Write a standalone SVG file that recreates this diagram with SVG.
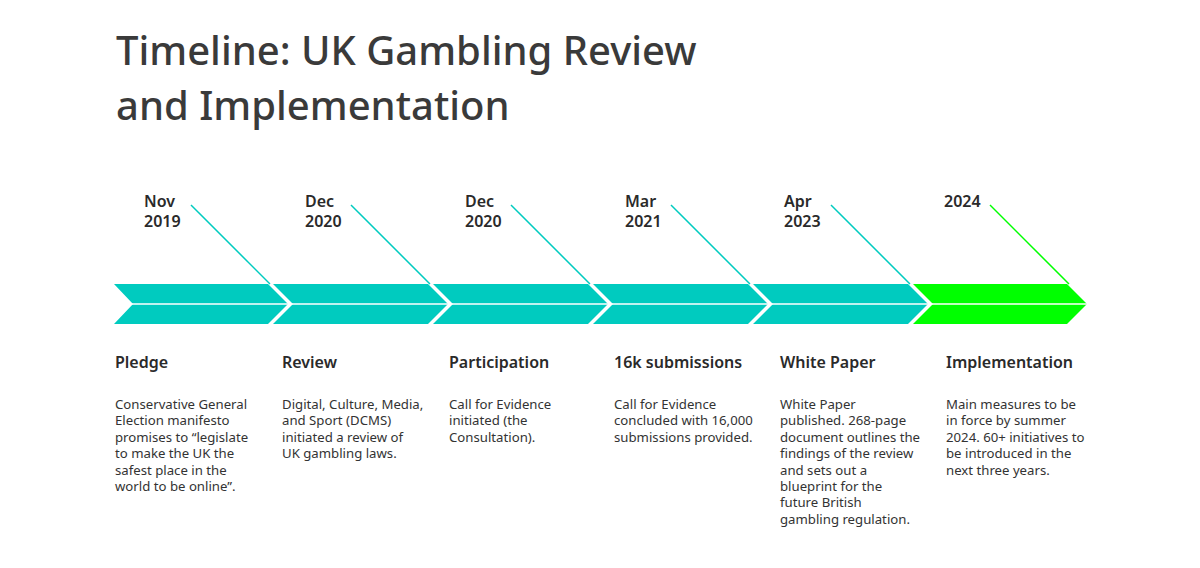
<svg xmlns="http://www.w3.org/2000/svg" width="1200" height="568" viewBox="0 0 1200 568">
<style>
.title{font-family:"Noto Sans","Liberation Sans",sans-serif;font-size:40px;font-weight:500;fill:#3a3a3a}
.date{font-family:"Noto Sans","Liberation Sans",sans-serif;font-size:16px;font-weight:600;fill:#2a2a2a}
.head{font-family:"Noto Sans","Liberation Sans",sans-serif;font-size:16px;font-weight:600;fill:#2a2a2a}
.body{font-family:"Noto Sans","Liberation Sans",sans-serif;font-size:13.2px;fill:#333}
.teal{fill:#00cbbf}
.green{fill:#00ff00}
.lt{stroke:#00cbbf;stroke-width:1.5;fill:none}
.lg{stroke:#00ff00;stroke-width:1.5;fill:none}
</style>
<rect width="1200" height="568" fill="#fff"/>
<g id="title">
<text class="title" x="116" y="65">Timeline: UK Gambling Review</text>
<text class="title" x="116" y="120">and Implementation</text>
</g>
<g id="connectors">
<line class="lt" x1="191" y1="205" x2="270" y2="284"/>
<line class="lt" x1="351" y1="205" x2="430" y2="284"/>
<line class="lt" x1="511" y1="205" x2="590" y2="284"/>
<line class="lt" x1="671" y1="205" x2="750" y2="284"/>
<line class="lt" x1="831" y1="205" x2="910" y2="284"/>
<line class="lg" x1="990" y1="205" x2="1069" y2="284"/>
</g>
<g id="band">
<polygon class="teal" points="114,284 268,284 288,304 268,324 114,324 133,304"/>
<polygon class="teal" points="273,284 428,284 448,304 428,324 273,324 293,304"/>
<polygon class="teal" points="433,284 588,284 608,304 588,324 433,324 453,304"/>
<polygon class="teal" points="593,284 748,284 768,304 748,324 593,324 613,304"/>
<polygon class="teal" points="753,284 908,284 928,304 908,324 753,324 773,304"/>
<polygon class="green" points="913,284 1067,284 1087,304 1067,324 913,324 933,304"/>
<line x1="110" y1="304" x2="1090" y2="304" stroke="#fff" stroke-width="1.6"/>
</g>
<g id="node1">
<text class="date" x="144" y="207">Nov</text>
<text class="date" x="144" y="227">2019</text>
<text class="head" x="115" y="368">Pledge</text>
<text class="body" x="115" y="409">Conservative General</text>
<text class="body" x="115" y="425.4">Election manifesto</text>
<text class="body" x="115" y="441.8">promises to “legislate</text>
<text class="body" x="115" y="458.2">to make the UK the</text>
<text class="body" x="115" y="474.6">safest place in the</text>
<text class="body" x="115" y="491">world to be online”.</text>
</g>
<g id="node2">
<text class="date" x="305" y="207">Dec</text>
<text class="date" x="305" y="227">2020</text>
<text class="head" x="282" y="368">Review</text>
<text class="body" x="282" y="409">Digital, Culture, Media,</text>
<text class="body" x="282" y="425.4">and Sport (DCMS)</text>
<text class="body" x="282" y="441.8">initiated a review of</text>
<text class="body" x="282" y="458.2">UK gambling laws.</text>
</g>
<g id="node3">
<text class="date" x="465" y="207">Dec</text>
<text class="date" x="465" y="227">2020</text>
<text class="head" x="449" y="368">Participation</text>
<text class="body" x="449" y="409">Call for Evidence</text>
<text class="body" x="449" y="425.4">initiated (the</text>
<text class="body" x="449" y="441.8">Consultation).</text>
</g>
<g id="node4">
<text class="date" x="625" y="207">Mar</text>
<text class="date" x="625" y="227">2021</text>
<text class="head" x="614" y="368">16k submissions</text>
<text class="body" x="614" y="409">Call for Evidence</text>
<text class="body" x="614" y="425.4">concluded with 16,000</text>
<text class="body" x="614" y="441.8">submissions provided.</text>
</g>
<g id="node5">
<text class="date" x="784" y="207">Apr</text>
<text class="date" x="784" y="227">2023</text>
<text class="head" x="780" y="368">White Paper</text>
<text class="body" x="780" y="409">White Paper</text>
<text class="body" x="780" y="425.4">published. 268-page</text>
<text class="body" x="780" y="441.8">document outlines the</text>
<text class="body" x="780" y="458.2">findings of the review</text>
<text class="body" x="780" y="474.6">and sets out a</text>
<text class="body" x="780" y="491">blueprint for the</text>
<text class="body" x="780" y="507.4">future British</text>
<text class="body" x="780" y="523.8">gambling regulation.</text>
</g>
<g id="node6">
<text class="date" x="944" y="207">2024</text>
<text class="head" x="946" y="368">Implementation</text>
<text class="body" x="946" y="409">Main measures to be</text>
<text class="body" x="946" y="425.4">in force by summer</text>
<text class="body" x="946" y="441.8">2024. 60+ initiatives to</text>
<text class="body" x="946" y="458.2">be introduced in the</text>
<text class="body" x="946" y="474.6">next three years.</text>
</g>
</svg>
